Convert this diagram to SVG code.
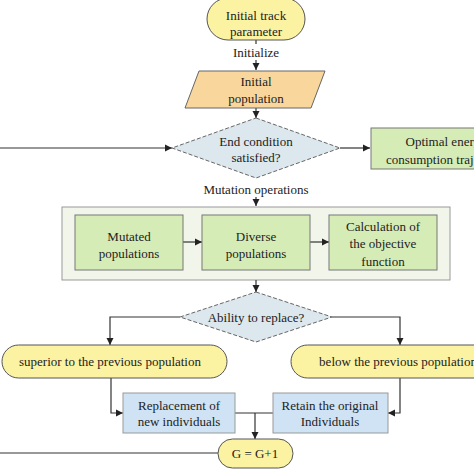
<svg xmlns="http://www.w3.org/2000/svg" width="474" height="474" viewBox="0 0 474 474">
<defs>
<marker id="ah" markerWidth="8" markerHeight="8" refX="7" refY="4" orient="auto" markerUnits="userSpaceOnUse">
<path d="M0,0.5 L7,4 L0,7.5 Z" fill="#222"/>
</marker>
<style>
text{font-family:"Liberation Serif","Times New Roman",serif;font-size:13px;fill:#222;text-anchor:middle}
.term{fill:#fbf3a2;stroke:#555;stroke-width:1}
.para{fill:#f9d79c;stroke:#666;stroke-width:1}
.dia{fill:#dce8ee;stroke:#666;stroke-width:1;stroke-dasharray:4,2}
.gbox{fill:#d6ecb6;stroke:#777;stroke-width:1}
.cont{fill:#f1f5ea;stroke:#999;stroke-width:1}
.bbox{fill:#cfe3f4;stroke:#999;stroke-width:1}
.ln{fill:none;stroke:#333;stroke-width:1.2}
</style>
</defs>
<rect width="474" height="474" fill="#ffffff"/>

<g id="container"><rect class="cont" x="62" y="207" width="388" height="73"/></g>

<g id="connectors">
<path class="ln" d="M256,40 V44"/>
<path class="ln" d="M256,60 V70" marker-end="url(#ah)"/>
<path class="ln" d="M256,108 V118" marker-end="url(#ah)"/>
<path class="ln" d="M0,148 H172" marker-end="url(#ah)"/>
<path class="ln" d="M340,148 H370" marker-end="url(#ah)"/>
<path class="ln" d="M256,197 V206" marker-end="url(#ah)"/>
<path class="ln" d="M183,242 H202" marker-end="url(#ah)"/>
<path class="ln" d="M310,242 H329" marker-end="url(#ah)"/>
<path class="ln" d="M256,280 V292" marker-end="url(#ah)"/>
<path class="ln" d="M180,317 H110 V345" marker-end="url(#ah)"/>
<path class="ln" d="M332,317 H400 V345" marker-end="url(#ah)"/>
<path class="ln" d="M111,378 V413 H123" marker-end="url(#ah)"/>
<path class="ln" d="M400,378 V413 H388" marker-end="url(#ah)"/>
<path class="ln" d="M235,413 H273"/>
<path class="ln" d="M255,413 V439" marker-end="url(#ah)"/>
<path class="ln" d="M218,453 H0"/>
</g>

<g id="start"><rect class="term" x="207" y="-2" width="98" height="42" rx="21"/>
<text x="256" y="20">Initial track</text><text x="256" y="36">parameter</text></g>
<text x="256" y="57">Initialize</text>

<g id="init-pop"><polygon class="para" points="199,71 325,71 311,108 185,108"/>
<text x="256" y="86">Initial</text><text x="256" y="103">population</text></g>

<g id="end-cond"><polygon class="dia" points="256,118 340,148 256,178 172,148"/>
<text x="256" y="146">End condition</text><text x="256" y="162">satisfied?</text></g>

<g id="optimal"><rect class="gbox" x="371" y="128" width="150" height="41"/>
<text x="446" y="146">Optimal energy</text><text x="446" y="164">consumption trajectory</text></g>

<text x="256" y="194">Mutation operations</text>

<g id="mutated"><rect class="gbox" x="75" y="215" width="108" height="55"/>
<text x="129" y="241">Mutated</text><text x="129" y="258">populations</text></g>
<g id="diverse"><rect class="gbox" x="202" y="215" width="108" height="55"/>
<text x="256" y="241">Diverse</text><text x="256" y="258">populations</text></g>
<g id="calc"><rect class="gbox" x="329" y="215" width="108" height="55"/>
<text x="383" y="231">Calculation of</text><text x="383" y="248">the objective</text><text x="383" y="266">function</text></g>

<g id="ability"><polygon class="dia" points="256,292 332,317 256,342 180,317"/>
<text x="256" y="322">Ability to replace?</text></g>

<g id="superior"><rect class="term" x="2" y="345" width="225" height="33" rx="16.5"/>
<text x="110" y="366">superior to the previous population</text></g>
<g id="below"><rect class="term" x="291" y="345" width="225" height="33" rx="16.5"/>
<text x="398" y="366">below the previous population</text></g>

<g id="replace"><rect class="bbox" x="123" y="393" width="112" height="40"/>
<text x="179" y="410">Replacement of</text><text x="179" y="426">new individuals</text></g>
<g id="retain"><rect class="bbox" x="273" y="393" width="115" height="40"/>
<text x="330" y="410">Retain the original</text><text x="330" y="426">Individuals</text></g>

<g id="gplus"><rect class="term" x="218" y="439" width="75" height="29" rx="14.5"/>
<text x="255" y="458">G = G+1</text></g>
</svg>
